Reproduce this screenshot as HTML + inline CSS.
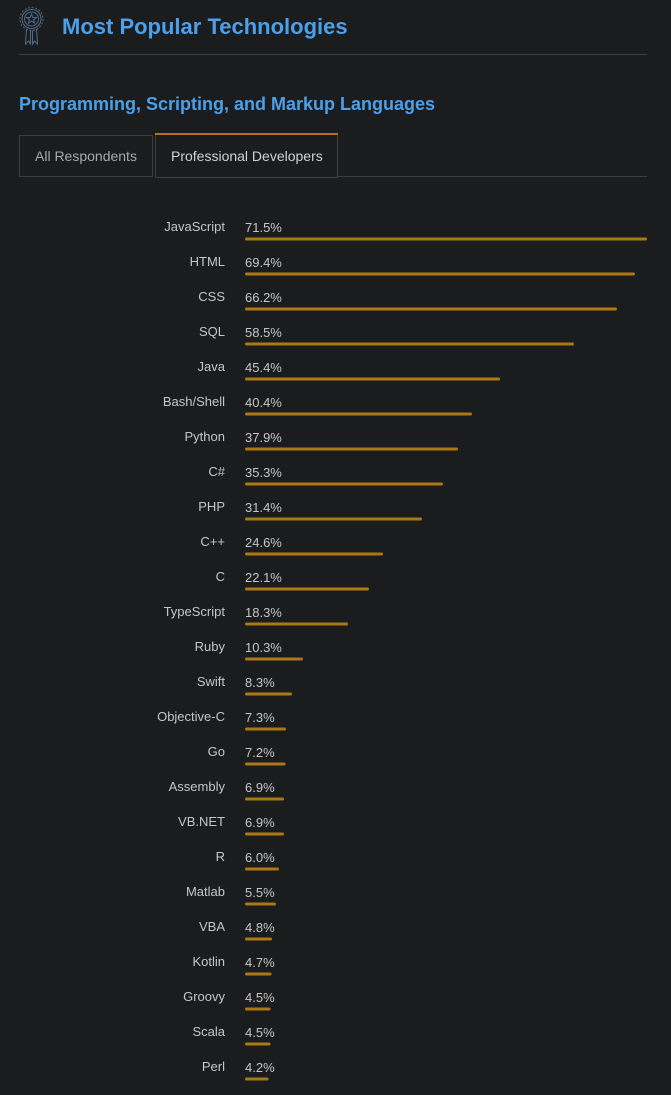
<!DOCTYPE html>
<html>
<head>
<meta charset="utf-8">
<style>
html,body{margin:0;padding:0;background:#1b1c1e;}
svg{display:block;}
text{font-family:"Liberation Sans",Arial,sans-serif;}
</style>
</head>
<body>
<svg width="671" height="1095" viewBox="0 0 671 1095" xmlns="http://www.w3.org/2000/svg">
<rect width="671" height="1095" fill="#1b1c1e"/>
<!-- icon -->
<g fill="none" stroke="#4f6d8e" stroke-width="1">
  <circle cx="31.5" cy="19" r="11.5" stroke-dasharray="2 1.6"/>
  <circle cx="31.5" cy="19" r="9.5"/>
  <circle cx="31.5" cy="19" r="7"/>
  <polygon points="31.5,14 32.8,17.4 36.4,17.5 33.6,19.7 34.6,23.1 31.5,21.1 28.4,23.1 29.4,19.7 26.6,17.5 30.2,17.4"/>
  <polyline points="26.5,29 25.5,44 28.5,41 30.5,44 30.5,30.5"/>
  <polyline points="36.5,29 37.5,44 34.5,41 32.5,44 32.5,30.5"/>
</g>
<text x="62" y="34" font-size="22" font-weight="bold" fill="#4aa0ea">Most Popular Technologies</text>
<rect x="19" y="54" width="628" height="1" fill="#3b3c3e"/>
<text x="19" y="110" font-size="18" font-weight="bold" fill="#4aa0ea">Programming, Scripting, and Markup Languages</text>
<!-- tabs -->
<rect x="19.5" y="135.5" width="133" height="41" fill="none" stroke="#3d3e40" stroke-width="1"/>
<text x="35" y="161" font-size="14" fill="#a9a9a9">All Respondents</text>
<rect x="155.5" y="134.5" width="182" height="43" fill="#1b1c1e" stroke="#3d3e40" stroke-width="1"/>
<rect x="155" y="133" width="183" height="2" fill="#ab7815"/>
<rect x="338" y="176" width="309" height="1" fill="#3d3e40"/>
<text x="171" y="161" font-size="14" fill="#d2d2d2">Professional Developers</text>
<!-- bars -->
<g font-size="13" fill="#c6c6c6">
<text x="225" y="231" text-anchor="end">JavaScript</text><text x="245" y="232">71.5%</text><rect x="245" y="237.5" width="402" height="3" rx="1.5" fill="#ab7815"/>
<text x="225" y="266" text-anchor="end">HTML</text><text x="245" y="267">69.4%</text><rect x="245" y="272.5" width="390" height="3" rx="1.5" fill="#ab7815"/>
<text x="225" y="301" text-anchor="end">CSS</text><text x="245" y="302">66.2%</text><rect x="245" y="307.5" width="372" height="3" rx="1.5" fill="#ab7815"/>
<text x="225" y="336" text-anchor="end">SQL</text><text x="245" y="337">58.5%</text><rect x="245" y="342.5" width="329" height="3" rx="1.5" fill="#ab7815"/>
<text x="225" y="371" text-anchor="end">Java</text><text x="245" y="372">45.4%</text><rect x="245" y="377.5" width="255" height="3" rx="1.5" fill="#ab7815"/>
<text x="225" y="406" text-anchor="end">Bash/Shell</text><text x="245" y="407">40.4%</text><rect x="245" y="412.5" width="227" height="3" rx="1.5" fill="#ab7815"/>
<text x="225" y="441" text-anchor="end">Python</text><text x="245" y="442">37.9%</text><rect x="245" y="447.5" width="213" height="3" rx="1.5" fill="#ab7815"/>
<text x="225" y="476" text-anchor="end">C#</text><text x="245" y="477">35.3%</text><rect x="245" y="482.5" width="198" height="3" rx="1.5" fill="#ab7815"/>
<text x="225" y="511" text-anchor="end">PHP</text><text x="245" y="512">31.4%</text><rect x="245" y="517.5" width="177" height="3" rx="1.5" fill="#ab7815"/>
<text x="225" y="546" text-anchor="end">C++</text><text x="245" y="547">24.6%</text><rect x="245" y="552.5" width="138" height="3" rx="1.5" fill="#ab7815"/>
<text x="225" y="581" text-anchor="end">C</text><text x="245" y="582">22.1%</text><rect x="245" y="587.5" width="124" height="3" rx="1.5" fill="#ab7815"/>
<text x="225" y="616" text-anchor="end">TypeScript</text><text x="245" y="617">18.3%</text><rect x="245" y="622.5" width="103" height="3" rx="1.5" fill="#ab7815"/>
<text x="225" y="651" text-anchor="end">Ruby</text><text x="245" y="652">10.3%</text><rect x="245" y="657.5" width="58" height="3" rx="1.5" fill="#ab7815"/>
<text x="225" y="686" text-anchor="end">Swift</text><text x="245" y="687">8.3%</text><rect x="245" y="692.5" width="47" height="3" rx="1.5" fill="#ab7815"/>
<text x="225" y="721" text-anchor="end">Objective-C</text><text x="245" y="722">7.3%</text><rect x="245" y="727.5" width="41" height="3" rx="1.5" fill="#ab7815"/>
<text x="225" y="756" text-anchor="end">Go</text><text x="245" y="757">7.2%</text><rect x="245" y="762.5" width="40.5" height="3" rx="1.5" fill="#ab7815"/>
<text x="225" y="791" text-anchor="end">Assembly</text><text x="245" y="792">6.9%</text><rect x="245" y="797.5" width="39" height="3" rx="1.5" fill="#ab7815"/>
<text x="225" y="826" text-anchor="end">VB.NET</text><text x="245" y="827">6.9%</text><rect x="245" y="832.5" width="39" height="3" rx="1.5" fill="#ab7815"/>
<text x="225" y="861" text-anchor="end">R</text><text x="245" y="862">6.0%</text><rect x="245" y="867.5" width="34" height="3" rx="1.5" fill="#ab7815"/>
<text x="225" y="896" text-anchor="end">Matlab</text><text x="245" y="897">5.5%</text><rect x="245" y="902.5" width="31" height="3" rx="1.5" fill="#ab7815"/>
<text x="225" y="931" text-anchor="end">VBA</text><text x="245" y="932">4.8%</text><rect x="245" y="937.5" width="27" height="3" rx="1.5" fill="#ab7815"/>
<text x="225" y="966" text-anchor="end">Kotlin</text><text x="245" y="967">4.7%</text><rect x="245" y="972.5" width="26.5" height="3" rx="1.5" fill="#ab7815"/>
<text x="225" y="1001" text-anchor="end">Groovy</text><text x="245" y="1002">4.5%</text><rect x="245" y="1007.5" width="25.5" height="3" rx="1.5" fill="#ab7815"/>
<text x="225" y="1036" text-anchor="end">Scala</text><text x="245" y="1037">4.5%</text><rect x="245" y="1042.5" width="25.5" height="3" rx="1.5" fill="#ab7815"/>
<text x="225" y="1071" text-anchor="end">Perl</text><text x="245" y="1072">4.2%</text><rect x="245" y="1077.5" width="23.6" height="3" rx="1.5" fill="#ab7815"/>
</g>
</svg>
</body>
</html>
